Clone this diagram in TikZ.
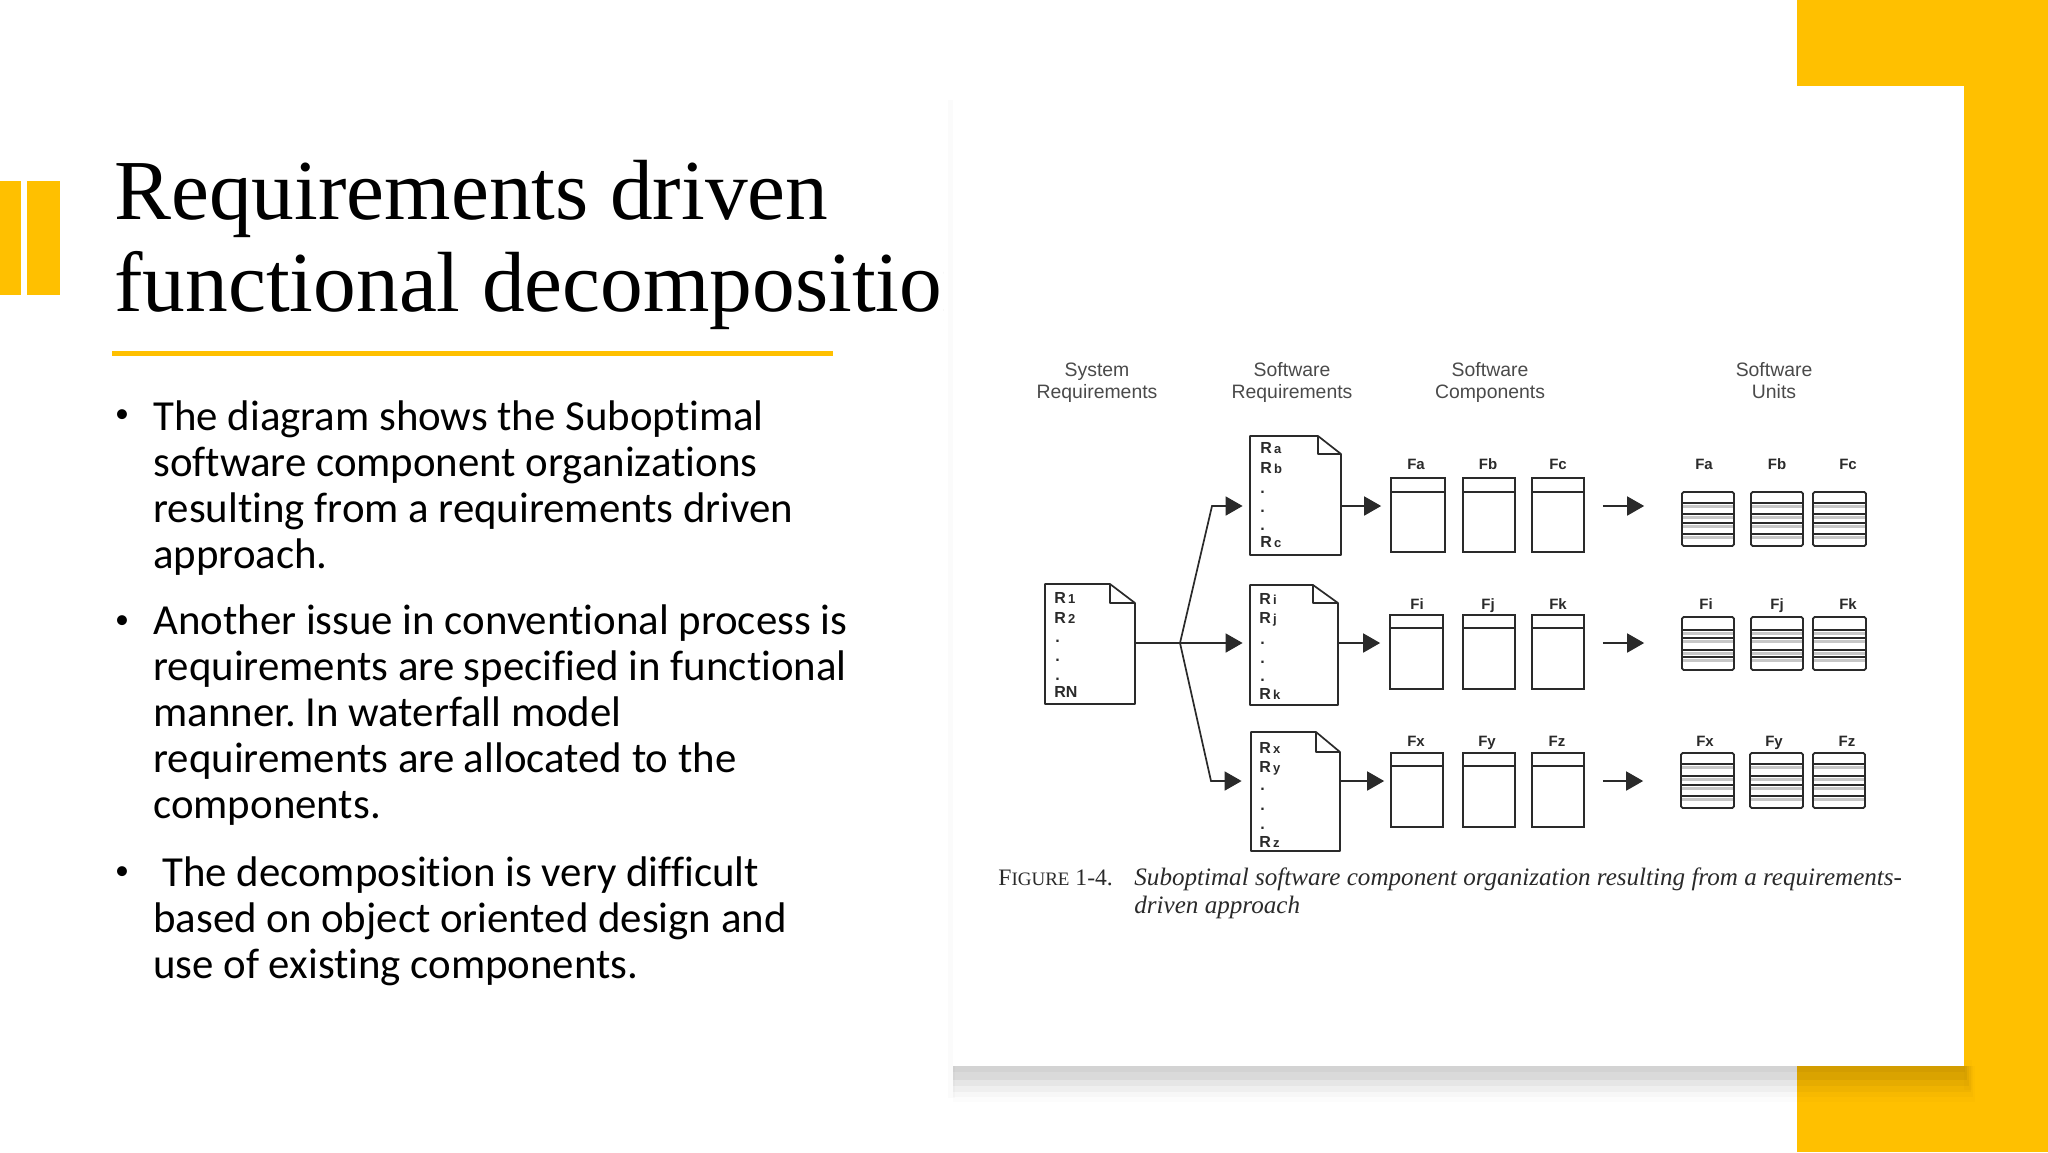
\documentclass[tikz,border=0pt]{standalone}
\usepackage{fontspec}
\setmainfont{Liberation Serif}
\newfontfamily\bodyfont[Ligatures={NoCommon}]{Carlito}
\newfontfamily\headfont{Liberation Sans}
\usetikzlibrary{arrows.meta,fit,calc}
\definecolor{gold}{HTML}{FFC000}
\definecolor{ink}{HTML}{2A2A2A}
\tikzset{
  bodyline/.style={anchor=base west,inner sep=0pt,font=\bodyfont\frenchspacing\fontsize{21.42}{24}\selectfont,text=black},
  dotbullet/.style={anchor=center,inner sep=0pt,font=\bodyfont\fontsize{14}{16}\selectfont},
  titleline/.style={anchor=base west,inner sep=0pt,font=\fontsize{42.7}{50}\selectfont,text=black},
  colhead/.style={align=center,inner sep=0pt,font=\headfont\fontsize{9.7}{11}\selectfont,text=ink!85},
  filelabel/.style={anchor=west,inner sep=0pt,font=\headfont\bfseries\fontsize{8}{9}\selectfont,text=ink},
  boxlabel/.style={inner sep=0pt,text height=5.5pt,text depth=1.5pt,font=\headfont\bfseries\fontsize{7.5}{9}\selectfont,text=ink},
  area/.style={inner sep=0pt},
  compbox/.style={area,draw=ink,line width=.85pt},
  unitbox/.style={area,draw=ink,line width=.85pt,rounded corners=.8pt},
  outline/.style={draw=ink,line width=.85pt,line join=round},
  conn/.style={draw=ink,line width=.85pt,-{Triangle[length=8.5pt,width=9.5pt]}},
  wire/.style={draw=ink,line width=.85pt},
  band/.style={draw=ink,line width=1.2pt},
  haze/.style={draw=black!22,line width=1.4pt},
  captionmain/.style={anchor=base west,inner sep=0pt,font=\itshape\fontsize{12.55}{14}\selectfont,text=ink},
}
\newcommand{\filedoc}[7]{% name x1 x2 y1 y2 foldx foldy
  \node[area,fit={(#2,#4)(#3,#5)}] (#1) {};
  \draw[outline] (#2,#4) -- (#6,#4) -- (#3,#7) -- (#3,#5) -- (#2,#5) -- cycle;
  \draw[outline] (#6,#4) -- (#6,#7) -- (#3,#7);
}
\newcommand{\comp}[6]{% name x1 x2 y1 y2 divider
  \node[compbox,fit={(#2,#4)(#3,#5)}] (#1) {};
  \draw[band] (#2,#6) -- (#3,#6);
}
\newcommand{\unit}[9]{% name x1 x2 y1 y2 l1 l2 l3 l4
  \foreach \yy in {#6,#7,#8,#9} {\draw[haze] (#2,\yy+3.5) -- (#3,\yy+3.5); \draw[band] (#2,\yy) -- (#3,\yy);}
  \node[unitbox,fit={(#2,#4)(#3,#5)}] (#1) {};
}
\begin{document}
\begin{tikzpicture}[x=0.5pt,y=-0.5pt]
\useasboundingbox (0,0) rectangle (2048,1152);
% decoration
\fill[white] (0,0) rectangle (2048,1152);
\fill[gold] (1797,0) rectangle (2048,1152);
\fill[gold] (0,181) rectangle (21,295);
\fill[gold] (27,181) rectangle (60,295);
\fill[gold] (112,351) rectangle (833,355.5);
% shadow of the panel
\foreach \b/\r/\o in {1102/1975/.012,1097/1973/.018,1092/1971/.03,1086/1969/.035,1080/1967/.05,1072/1965/.03}{
  \fill[black,opacity=\o] (953,1066) rectangle (\r,\b);
}
\fill[black,opacity=.012] (1964,1060) rectangle (1972,1090);
\fill[black,opacity=.015] (948,100) rectangle (955,1098);
\fill[white] (953,86) rectangle (1964,1066);
% title
\begin{scope}
\clip (100,130) rectangle (943,345);
\node[titleline] (t1) at (114,219) {Requirements driven};
\node[titleline] (t2) at (114,311) {functional decomposition};
\end{scope}
% body text
\node[dotbullet] (b1) at (122,416.5) {•};
\node[bodyline] (l1) at (153,430) {The diagram shows the Suboptimal};
\node[bodyline] (l2) at (153,476) {software component organizations};
\node[bodyline] (l3) at (153,522) {resulting from a requirements driven};
\node[bodyline] (l4) at (153,568) {approach.};
\node[dotbullet] (b2) at (122,622) {•};
\node[bodyline] (l5) at (153,634.5) {Another issue in conventional process is};
\node[bodyline] (l6) at (153,680.5) {requirements are specified in functional};
\node[bodyline] (l7) at (153,726.5) {manner. In waterfall model};
\node[bodyline] (l8) at (153,772.5) {requirements are allocated to the};
\node[bodyline] (l9) at (153,818.5) {components.};
\node[dotbullet] (b3) at (122,873) {•};
\node[bodyline] (l10) at (162,886) {The decomposition is very difficult};
\node[bodyline] (l11) at (153,932) {based on object oriented design and};
\node[bodyline] (l12) at (153,978) {use of existing components.};
% column headers
\node[colhead] (h1) at (1097,383) {System\\Requirements};
\node[colhead] (h2) at (1292,382) {Software\\Requirements};
\node[colhead] (h3) at (1490,382) {Software\\Components};
\node[colhead] (h4) at (1774,381) {Software\\Units};
% documents
\filedoc{dS}{1045}{1135}{584}{704}{1110}{603}
\filedoc{dT}{1250}{1341}{436}{555}{1318}{454}
\filedoc{dM}{1250}{1338}{585}{705}{1313}{603}
\filedoc{dB}{1251}{1340}{732}{851}{1316}{752}
% document labels
\newcommand{\rl}[1]{R{\fontsize{6.5}{7}\selectfont\,#1}}
\node[filelabel] (s1) at (1054,598) {\rl{1}};
\node[filelabel] (s2) at (1054,618) {\rl{2}};
\node[filelabel] (s3) at (1055,641) {.};
\node[filelabel] (s4) at (1055,660) {.};
\node[filelabel] (s5) at (1055,679) {.};
\node[filelabel] (s6) at (1054,692) {RN};
\node[filelabel] (a1) at (1260,448) {\rl{a}};
\node[filelabel] (a2) at (1260,468) {\rl{b}};
\node[filelabel] (a3) at (1260,492) {.};
\node[filelabel] (a4) at (1260,511) {.};
\node[filelabel] (a5) at (1260,529) {.};
\node[filelabel] (a6) at (1260,542) {\rl{c}};
\node[filelabel] (m1) at (1259,599) {\rl{i}};
\node[filelabel] (m2) at (1259,619) {\rl{j}};
\node[filelabel] (m3) at (1260,643) {.};
\node[filelabel] (m4) at (1260,662) {.};
\node[filelabel] (m5) at (1260,680) {.};
\node[filelabel] (m6) at (1259,694) {\rl{k}};
\node[filelabel] (z1) at (1259,748) {\rl{x}};
\node[filelabel] (z2) at (1259,768) {\rl{y}};
\node[filelabel] (z3) at (1260,789) {.};
\node[filelabel] (z4) at (1260,809) {.};
\node[filelabel] (z5) at (1260,828) {.};
\node[filelabel] (z6) at (1259,842) {\rl{z}};
% components
\comp{cT1}{1391}{1445}{478}{552}{492}
\comp{cT2}{1463}{1515}{478}{552}{492}
\comp{cT3}{1532}{1584}{478}{552}{492}
\comp{cM1}{1390}{1443}{615}{689}{628}
\comp{cM2}{1463}{1515}{615}{689}{628}
\comp{cM3}{1532}{1584}{615}{689}{628}
\comp{cB1}{1391}{1443}{753}{827}{766}
\comp{cB2}{1463}{1515}{753}{827}{766}
\comp{cB3}{1532}{1584}{753}{827}{766}
% units
\unit{uT1}{1682}{1734}{492}{546}{503}{514}{523}{534}
\unit{uT2}{1751}{1803}{492}{546}{503}{514}{523}{534}
\unit{uT3}{1813}{1866}{492}{546}{503}{514}{523}{534}
\unit{uM1}{1682}{1734}{617}{670}{630}{638}{650}{657}
\unit{uM2}{1751}{1803}{617}{670}{630}{638}{650}{657}
\unit{uM3}{1813}{1866}{617}{670}{630}{638}{650}{657}
\unit{uB1}{1681}{1734}{753}{808}{764}{776}{785}{796}
\unit{uB2}{1750}{1803}{753}{808}{764}{776}{785}{796}
\unit{uB3}{1813}{1865}{753}{808}{764}{776}{785}{796}
% box labels
\node[boxlabel] (fa) at (1416,465) {Fa};
\node[boxlabel] (fb) at (1488,465) {Fb};
\node[boxlabel] (fc) at (1558,465) {Fc};
\node[boxlabel] (fi) at (1417,605) {Fi};
\node[boxlabel] (fj) at (1488,605) {Fj};
\node[boxlabel] (fk) at (1558,605) {Fk};
\node[boxlabel] (fx) at (1416,742) {Fx};
\node[boxlabel] (fy) at (1487,742) {Fy};
\node[boxlabel] (fz) at (1557,742) {Fz};
\node[boxlabel] (ga) at (1704,465) {Fa};
\node[boxlabel] (gb) at (1777,465) {Fb};
\node[boxlabel] (gc) at (1848,465) {Fc};
\node[boxlabel] (gi) at (1706,605) {Fi};
\node[boxlabel] (gj) at (1777,605) {Fj};
\node[boxlabel] (gk) at (1848,605) {Fk};
\node[boxlabel] (gx) at (1705,742) {Fx};
\node[boxlabel] (gy) at (1774,742) {Fy};
\node[boxlabel] (gz) at (1847,742) {Fz};
% connectors
\coordinate (rowT) at (0,506);
\coordinate (rowM) at (0,643);
\coordinate (rowB) at (0,781);
\coordinate (fork) at (1180,643);
\coordinate (kneeT) at (1212,506);
\coordinate (kneeB) at (1211,781);
\draw[wire] (dS.east |- rowM) -- (fork);
\draw[conn,shorten >=3.5pt] (fork) -- (kneeT) -- (dT.west |- rowT);
\draw[conn,shorten >=3.5pt] (fork) -- (dM.west |- rowM);
\draw[conn,shorten >=4.5pt] (fork) -- (kneeB) -- (dB.west |- rowB);
\draw[conn,shorten >=4.5pt] (dT.east |- rowT) -- (cT1.west |- rowT);
\draw[conn,shorten >=4.5pt] (dM.east |- rowM) -- (cM1.west |- rowM);
\draw[conn,shorten >=3pt] (dB.east |- rowB) -- (cB1.west |- rowB);
\draw[conn,shorten <=9pt,shorten >=18.5pt] (cT3.east |- rowT) -- (uT1.west |- rowT);
\draw[conn,shorten <=9pt,shorten >=18.5pt] (cM3.east |- rowM) -- (uM1.west |- rowM);
\draw[conn,shorten <=9pt,shorten >=18.5pt] (cB3.east |- rowB) -- (uB1.west |- rowB);
% caption
\node[anchor=base west,inner sep=0pt,font=\fontsize{11.8}{14}\selectfont,text=ink] (figlabel) at (998,885) {F{\fontsize{9.5}{12}\selectfont IGURE} 1-4.};
\node[captionmain] (cap1) at (1134,885) {Suboptimal software component organization resulting from a requirements-};
\node[captionmain] (cap2) at (1134,913) {driven approach};
\end{tikzpicture}
\end{document}
